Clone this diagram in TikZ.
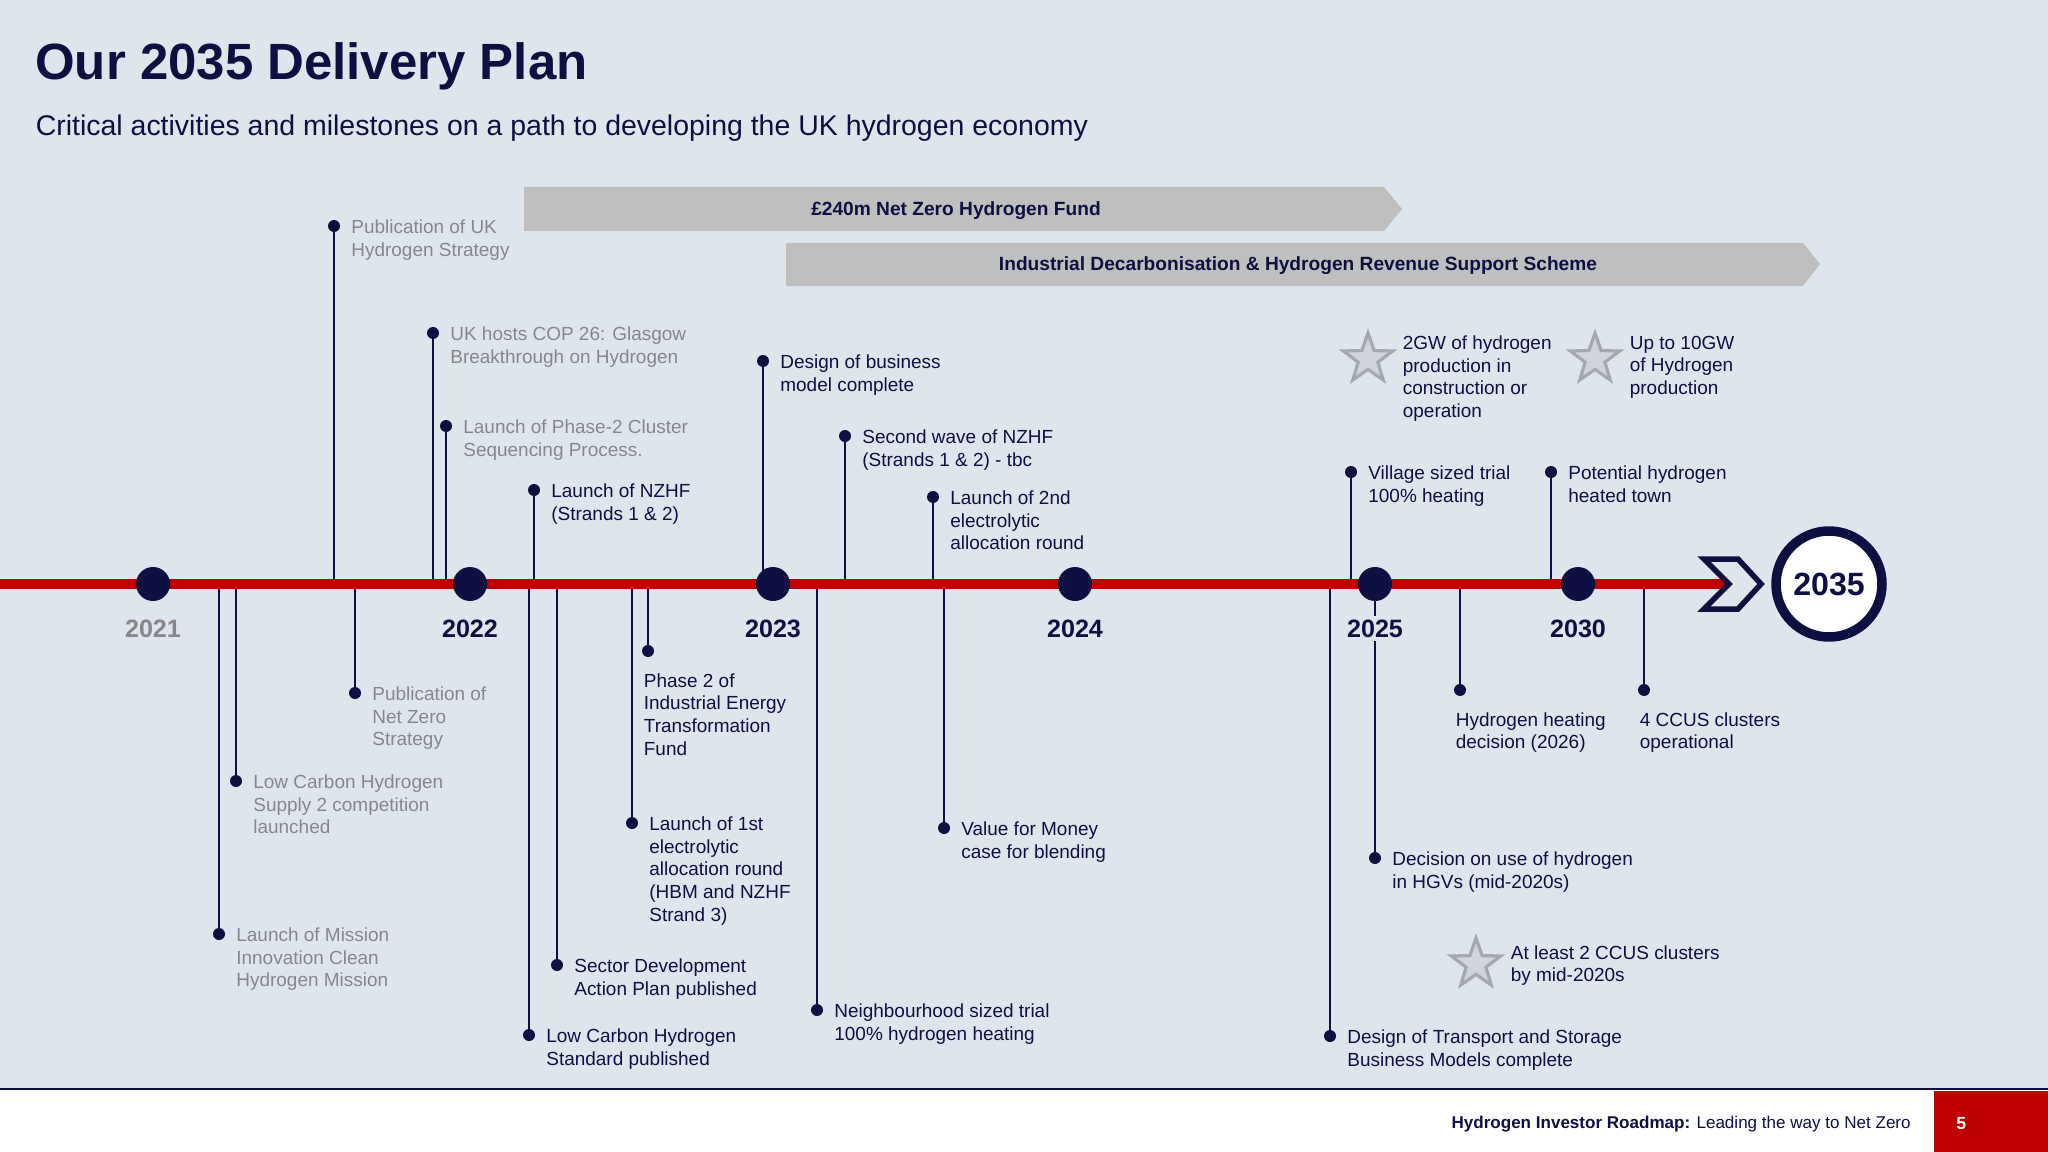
\documentclass[tikz,border=0pt]{standalone}
\usepackage{fontspec}
\setmainfont{Liberation Sans}
\usetikzlibrary{positioning, shapes.geometric}

\definecolor{navy}{RGB}{15,16,66}
\definecolor{pagebg}{RGB}{223,229,236}
\definecolor{greytext}{RGB}{135,135,138}
\definecolor{brandred}{RGB}{192,0,0}
\definecolor{bannergrey}{RGB}{191,191,191}
\definecolor{stargrey}{RGB}{165,168,173}
\definecolor{starfill}{RGB}{208,213,219}

\begin{document}
\begin{tikzpicture}[
        x=0.02cm, y=-0.02cm,
        every node/.style={inner sep=0pt},
        bodytext/.style={font=\fontsize{10.8}{12.9}\selectfont, align=left, text=navy},
        faded/.style={text=greytext},
        pindot/.style={circle, fill=navy, minimum size=0.24cm},
        yeardot/.style={circle, fill=navy, minimum size=0.68cm},
        yearlabel/.style={font=\fontsize{14.3}{16}\selectfont\bfseries, text=navy, fill=pagebg, inner sep=2pt, anchor=base},
        noteright/.style={bodytext, anchor=north west, xshift=0.34cm, yshift=0.13cm},
        notebelow/.style={bodytext, anchor=north west, xshift=-0.09cm, yshift=-0.44cm},
        startext/.style={bodytext, anchor=north west, xshift=0.69cm, yshift=0.47cm},
        milestar/.style={star, star points=5, star point ratio=2.5, draw=stargrey, fill=starfill, line width=1.8pt, minimum size=1.04cm},
        stem/.style={draw=navy, line width=0.04cm},
        timeline/.style={draw=brandred, line width=0.19cm},
        banner/.style={fill=bannergrey},
        bannertext/.style={font=\fontsize{10.9}{13}\selectfont\bfseries, text=navy, anchor=base}
      ]
        \useasboundingbox (0,0) rectangle (2048,1152);
        \fill[pagebg] (0,0) rectangle (2048,1152);

        % heading
        \node[anchor=base west, font=\fontsize{29}{34}\selectfont\bfseries, text=navy] (title) at (35,80) {Our 2035 Delivery Plan};
        \node[anchor=base west, font=\fontsize{16.2}{19}\selectfont, text=navy] (subtitle) at (35.5,136) {Critical activities and milestones on a path to developing the UK hydrogen economy};

        % funding banners
        \fill[banner] (524,187) -- (1384,187) -- (1402,209) -- (1384,231) -- (524,231) -- cycle;
        \node[bannertext] (fund) at (956,215) {£240m Net Zero Hydrogen Fund};
        \fill[banner] (786,243) -- (1803,243) -- (1820,264) -- (1803,286) -- (786,286) -- cycle;
        \node[bannertext] (scheme) at (1298,271) {Industrial Decarbonisation \& Hydrogen Revenue Support Scheme};

        \coordinate (tl) at (0,584);
        \coordinate (notch) at (1729,584);

        % milestones above the line
        \node[pindot] (a1) at (334,226) {};
        \node[noteright, faded] (ta1) at (a1) {Publication of UK\\Hydrogen Strategy};
        \node[pindot] (a2) at (433,333) {};
        \node[noteright, faded] (ta2) at (a2) {UK hosts COP 26: Glasgow\\Breakthrough on Hydrogen};
        \node[pindot] (a3) at (446,426) {};
        \node[noteright, faded] (ta3) at (a3) {Launch of Phase-2 Cluster\\Sequencing Process.};
        \node[pindot] (a4) at (534,490) {};
        \node[noteright] (ta4) at (a4) {Launch of NZHF\\(Strands 1 \& 2)};
        \node[pindot] (a5) at (763,361) {};
        \node[noteright] (ta5) at (a5) {Design of business\\model complete};
        \node[pindot] (a6) at (845,436) {};
        \node[noteright] (ta6) at (a6) {Second wave of NZHF\\(Strands 1 \& 2) - tbc};
        \node[pindot] (a7) at (933,497) {};
        \node[noteright] (ta7) at (a7) {Launch of 2nd\\electrolytic\\allocation round};
        \node[pindot] (a8) at (1351,472) {};
        \node[noteright] (ta8) at (a8) {Village sized trial\\100\% heating};
        \node[pindot] (a9) at (1551,472) {};
        \node[noteright] (ta9) at (a9) {Potential hydrogen\\heated town};

        % milestones below the line
        \node[pindot] (b1) at (219,934) {};
        \node[noteright, faded] (tb1) at (b1) {Launch of Mission\\Innovation Clean\\Hydrogen Mission};
        \node[pindot] (b2) at (236,781) {};
        \node[noteright, faded] (tb2) at (b2) {Low Carbon Hydrogen\\Supply 2 competition\\launched};
        \node[pindot] (b3) at (355,693) {};
        \node[noteright, faded] (tb3) at (b3) {Publication of\\Net Zero\\Strategy};
        \node[pindot] (b4) at (529,1035) {};
        \node[noteright] (tb4) at (b4) {Low Carbon Hydrogen\\Standard published};
        \node[pindot] (b5) at (557,965) {};
        \node[noteright] (tb5) at (b5) {Sector Development\\Action Plan published};
        \node[pindot] (b6) at (632,823) {};
        \node[noteright] (tb6) at (b6) {Launch of 1st\\electrolytic\\allocation round\\(HBM and NZHF\\Strand 3)};
        \node[pindot] (b7) at (648,651) {};
        \node[notebelow] (tb7) at (b7) {Phase 2 of\\Industrial Energy\\Transformation\\Fund};
        \node[pindot] (b8) at (817,1010) {};
        \node[noteright] (tb8) at (b8) {Neighbourhood sized trial\\100\% hydrogen heating};
        \node[pindot] (b9) at (944,828) {};
        \node[noteright] (tb9) at (b9) {Value for Money\\case for blending};
        \node[pindot] (b10) at (1330,1036) {};
        \node[noteright] (tb10) at (b10) {Design of Transport and Storage\\Business Models complete};
        \node[pindot] (b11) at (1375,858) {};
        \node[noteright] (tb11) at (b11) {Decision on use of hydrogen\\in HGVs (mid-2020s)};
        \node[pindot] (b12) at (1460,690) {};
        \node[notebelow] (tb12) at (b12) {Hydrogen heating\\decision (2026)};
        \node[pindot] (b13) at (1644,690) {};
        \node[notebelow] (tb13) at (b13) {4 CCUS clusters\\operational};

        \foreach \p in {a1,a2,a3,a4,a5,a6,a7,a8,a9,b1,b2,b3,b4,b5,b6,b7,b8,b9,b10,b11,b12,b13}
          \draw[stem] (\p) -- (\p |- tl);

        % the timeline itself
        \draw[timeline] (tl) -- (notch);
        \draw[navy, line width=0.11cm, fill=pagebg] (1704,559) -- (1738,559) -- (1761,584) -- (1738,609) -- (1704,609) -- (notch) -- cycle;
        \node[circle, draw=navy, line width=0.19cm, fill=white, minimum size=2.12cm, font=\fontsize{18.3}{22}\selectfont\bfseries, text=navy] (goal) at (1829,584) {2035};

        \foreach \yr/\x/\c in {2021/153/greytext, 2022/470/navy, 2023/773/navy, 2024/1075/navy, 2025/1375/navy, 2030/1578/navy} {
          \node[yeardot] (y\yr) at (\x,584) {};
          \node[yearlabel, text=\c] (l\yr) at (\x,637) {\yr};
        }

        % targets
        \node[milestar] (s1) at (1368,359) {};
        \node[startext] (ts1) at (s1) {2GW of hydrogen\\production in\\construction or\\operation};
        \node[milestar] (s2) at (1595,359) {};
        \node[startext] (ts2) at (s2) {Up to 10GW\\of Hydrogen\\production};
        \node[milestar] (s3) at (1476,964) {};
        \node[startext, yshift=-0.09cm] (ts3) at (s3) {At least 2 CCUS clusters\\by mid-2020s};

        % footer
        \fill[white] (0,1089) rectangle (2048,1152);
        \draw[navy, line width=0.05cm] (0,1089) -- (2048,1089);
        \fill[brandred] (1934,1091) rectangle (2048,1152);
        \node[anchor=base east, font=\fontsize{9.7}{12}\selectfont, text=navy] (footer) at (1911,1128) {\textbf{Hydrogen Investor Roadmap:} Leading the way to Net Zero};
        \node[anchor=base west, font=\fontsize{10}{12}\selectfont\bfseries, text=white] (pagenum) at (1956,1129) {5};
      \end{tikzpicture}
\end{document}
